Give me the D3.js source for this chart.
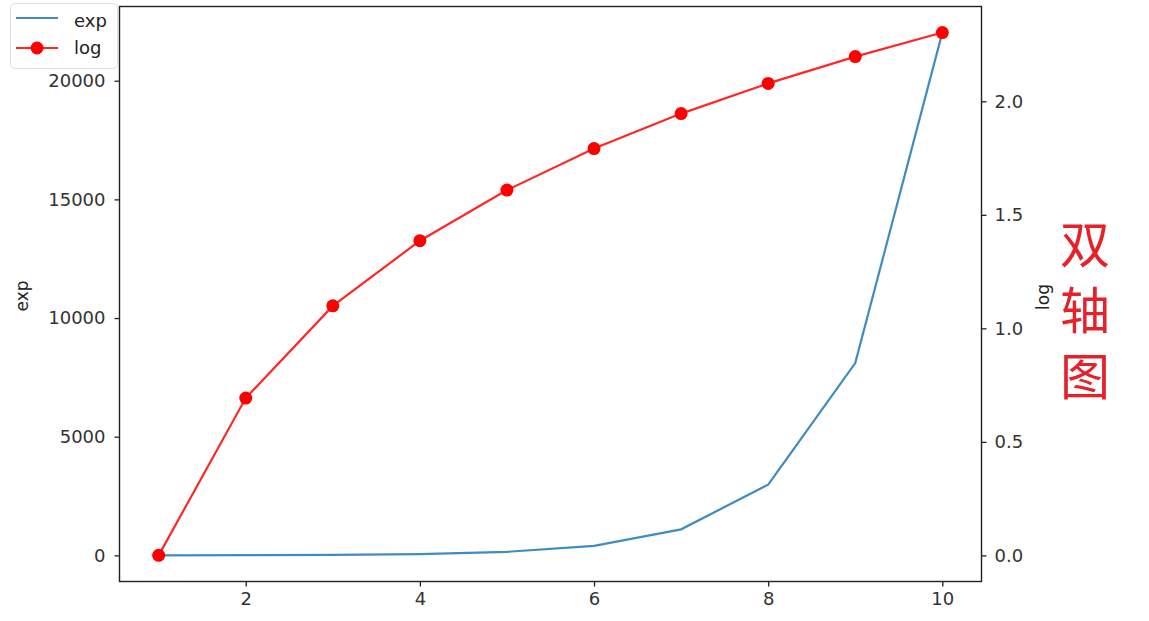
<!DOCTYPE html>
<html>
<head>
<meta charset="utf-8">
<script src="https://cdn.jsdelivr.net/npm/d3@7"></script>
<style>
  body { margin: 0; background: #fff; }
  svg { display: block; font-family: "DejaVu Sans", sans-serif; }
</style>
</head>
<body>
<script>
const xs = [1, 2, 3, 4, 5, 6, 7, 8, 9, 10];
const expValues = [2.72, 7.39, 20.09, 54.6, 148.4, 403.4, 1096.6, 2981, 8103, 22026];
const logValues = [0, 0.693, 1.099, 1.386, 1.609, 1.792, 1.946, 2.079, 2.197, 2.303];
const xTicks = [2, 4, 6, 8, 10];
const leftTicks = [0, 5000, 10000, 15000, 20000];
const rightTicks = [0, 0.5, 1.0, 1.5, 2.0];

const w = 1149;
const h = 621;
const plotLeft = 119.5, plotRight = 981.5, plotTop = 6.5, plotBottom = 581.5;
const fontSize = "18px";

const svg = d3.select("body")
  .append("svg")
  .attr("width", w)
  .attr("height", h);

const xScale = d3.scaleLinear()
  .domain([0.55, 10.45])
  .range([plotLeft, plotRight]);

const yLeft = d3.scaleLinear()
  .domain([-1101.2, 23127.5])
  .range([plotBottom, plotTop]);

const yRight = d3.scaleLinear()
  .domain([-0.1151, 2.4177])
  .range([plotBottom, plotTop]);

function styleAxis(g) {
  g.select(".domain").remove();
  g.selectAll(".tick line").attr("stroke", "#222").attr("stroke-width", 1.3);
  g.selectAll(".tick text").attr("fill", "#333").style("font-size", fontSize)
    .style("font-family", "DejaVu Sans, sans-serif");
}

svg.append("g")
  .attr("transform", "translate(0," + plotBottom + ")")
  .call(d3.axisBottom(xScale).tickValues(xTicks).tickSize(5).tickPadding(6).tickFormat(d3.format("d")))
  .call(styleAxis);

svg.append("g")
  .attr("transform", "translate(" + plotLeft + ",0)")
  .call(d3.axisLeft(yLeft).tickValues(leftTicks).tickSize(5).tickPadding(9).tickFormat(d3.format("d")))
  .call(styleAxis);

svg.append("g")
  .attr("transform", "translate(" + plotRight + ",0)")
  .call(d3.axisRight(yRight).tickValues(rightTicks).tickSize(5).tickPadding(8).tickFormat(d3.format(".1f")))
  .call(styleAxis);

// frame
svg.append("rect")
  .attr("x", plotLeft)
  .attr("y", plotTop)
  .attr("width", plotRight - plotLeft)
  .attr("height", plotBottom - plotTop)
  .attr("fill", "none")
  .attr("stroke", "#222")
  .attr("stroke-width", 1.4);

const expLine = d3.line()
  .x((d, i) => xScale(xs[i]))
  .y(d => yLeft(d));

svg.append("path")
  .datum(expValues)
  .attr("d", expLine)
  .attr("fill", "none")
  .attr("stroke", "#1f77b4")
  .attr("stroke-opacity", 0.85)
  .attr("stroke-width", 2.2);

const logLine = d3.line()
  .x((d, i) => xScale(xs[i]))
  .y(d => yRight(d));

svg.append("path")
  .datum(logValues)
  .attr("d", logLine)
  .attr("fill", "none")
  .attr("stroke", "red")
  .attr("stroke-opacity", 0.85)
  .attr("stroke-width", 2.2);

svg.selectAll("circle.pt")
  .data(logValues)
  .enter()
  .append("circle")
  .attr("class", "pt")
  .attr("cx", (d, i) => xScale(xs[i]))
  .attr("cy", d => yRight(d))
  .attr("r", 6.5)
  .attr("fill", "red");

// axis labels
svg.append("text")
  .attr("transform", "translate(28,296) rotate(-90)")
  .attr("text-anchor", "middle")
  .style("font-size", "17px")
  .attr("fill", "#222")
  .text("exp");

svg.append("text")
  .attr("transform", "translate(1049,297) rotate(-90)")
  .attr("text-anchor", "middle")
  .style("font-size", "17px")
  .attr("fill", "#222")
  .text("log");

// legend
const legend = svg.append("g").attr("id", "legend");

legend.append("rect")
  .attr("x", 10.5)
  .attr("y", 3.5)
  .attr("width", 107)
  .attr("height", 65)
  .attr("rx", 4)
  .attr("fill", "#fff")
  .attr("fill-opacity", 0.85)
  .attr("stroke", "#ddd");

legend.append("line")
  .attr("x1", 16).attr("x2", 58).attr("y1", 18).attr("y2", 18)
  .attr("stroke", "#1f77b4").attr("stroke-opacity", 0.85).attr("stroke-width", 2.2);

legend.append("text")
  .attr("x", 74).attr("y", 27)
  .style("font-size", fontSize).attr("fill", "#222")
  .text("exp");

legend.append("line")
  .attr("x1", 16).attr("x2", 58).attr("y1", 48).attr("y2", 48)
  .attr("stroke", "red").attr("stroke-opacity", 0.85).attr("stroke-width", 2.2);

legend.append("circle")
  .attr("cx", 37).attr("cy", 48).attr("r", 6.5).attr("fill", "red");

legend.append("text")
  .attr("x", 74).attr("y", 54)
  .style("font-size", fontSize).attr("fill", "#222")
  .text("log");

// vertical title
const title = ["双", "轴", "图"];
svg.selectAll("text.title")
  .data(title)
  .enter()
  .append("text")
  .attr("class", "title")
  .attr("x", 1085)
  .attr("y", (d, i) => 263 + i * 66)
  .attr("text-anchor", "middle")
  .style("font-family", "Noto Sans CJK SC, sans-serif")
  .style("font-size", "50px")
  .attr("fill", "#e8202a")
  .text(d => d);
</script>
</body>
</html>
